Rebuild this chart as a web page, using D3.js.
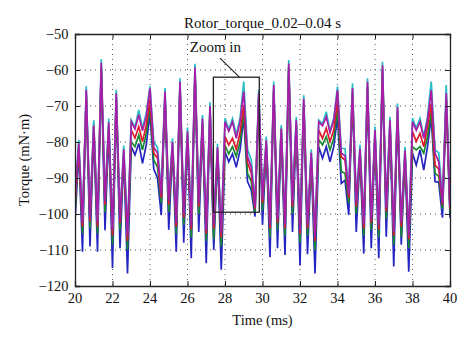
<!DOCTYPE html>
<html>
<head>
<meta charset="utf-8">
<script src="https://cdn.jsdelivr.net/npm/d3@7"></script>
<style>
  html, body { margin: 0; padding: 0; background: #fff; }
  svg { display: block; }
  text { font-family: "Liberation Serif", "DejaVu Serif", serif; fill: #111; }
</style>
</head>
<body>
<svg id="chart" width="474" height="345"></svg>
<script>
// ---------------- data ----------------
const times = d3.range(101).map(i => +(20 + i * 0.2).toFixed(1)); // 20.0 … 40.0 ms, 0.2 ms sampling

const seriesNames = ["blue", "green", "red", "cyan", "magenta"];
const seriesColors = ["#2424c0", "#158a30", "#dc1a2a", "#28bcc4", "#a81ca8"];

const blueValues = [
  -102.5, -82.4, -110.5, -67.5, -109, -77, -110.5, -60, -104.5, -76.5,
  -115, -68.5, -109.5, -84, -116.5, -81.3, -83.6, -80.4, -85.9, -80.8,
  -72.0, -87.5, -90.0, -100.3, -68, -104.4, -82, -110.5, -65.3, -108,
  -79, -112.3, -61.3, -105, -75.5, -113.7, -72, -110, -83.5, -115.5,
  -82.7, -85.5, -83.3, -87.0, -82.4, -73.0, -91.0, -93.3, -100.7, -68.5,
  -103, -81.5, -112, -66.2, -109.5, -77.8, -111.4, -60.2, -105, -76,
  -114.3, -70, -111.2, -85, -116.5, -81.3, -84.5, -81.3, -85.5, -81.3,
  -73.0, -91.5, -90.6, -100.3, -67, -105, -83.8, -111, -65.3, -109.5,
  -78.7, -112.3, -60.7, -106.3, -76, -114.6, -72.3, -108.5, -84.3, -116,
  -83.1, -86.4, -82.2, -87.8, -81.3, -73.0, -91.0, -91.2, -101, -68.5,
  -101
];
const greenValues = [
  -99.5, -81.9, -105.5, -67, -104, -76.5, -105.5, -59.5, -99.5, -76,
  -108.5, -68, -104.5, -83.5, -110, -79.9, -81.3, -78.1, -82.2, -77.6,
  -70.2, -85.0, -87.0, -97, -67.5, -99.4, -81.5, -105.5, -64.8, -103,
  -78.5, -106.5, -60.8, -100, -75, -107.5, -71.5, -107, -83, -109,
  -81.0, -83.3, -81.3, -84.0, -80.0, -71.5, -88.7, -91.0, -99.5, -68,
  -99, -81, -106.5, -65.7, -104.5, -77.3, -106, -59.7, -100, -75.5,
  -108, -69.5, -106, -84.5, -110, -79.4, -80.8, -78.5, -82.2, -79.0,
  -70.6, -88.2, -88.7, -97, -66.5, -100, -83.3, -106, -64.8, -104.5,
  -78.2, -106.5, -60.2, -101.3, -75.5, -108.5, -71.8, -106.3, -83.8, -109.5,
  -81.3, -82.2, -81.3, -83.1, -78.5, -71.6, -88.7, -89.5, -98.5, -68,
  -99.5
];
const redValues = [
  -97.5, -81.4, -103.5, -66.5, -102, -74.8, -103.5, -59, -97.5, -75.5,
  -106, -67.5, -102.5, -83, -107.5, -76.7, -78.9, -75.7, -79.9, -75.3,
  -68.3, -83.0, -84.5, -95.5, -67, -97.4, -81, -103.5, -64.3, -101,
  -78, -104.3, -60.3, -98, -74.5, -105.5, -71, -104, -82.5, -106.5,
  -78.5, -80.8, -79.0, -82.0, -77.5, -69.7, -85.6, -88.7, -98.5, -67.5,
  -97, -80.5, -104, -65.2, -102.5, -76, -104, -59.2, -98, -75,
  -105.5, -69, -104, -84, -107.5, -76.7, -79.0, -76.2, -79.9, -76.7,
  -68.3, -84.1, -85.0, -95.5, -66, -98, -82.8, -104, -64.3, -102.5,
  -77.7, -104.3, -59.7, -99.3, -75, -106, -71.3, -103.5, -83.3, -107,
  -77.1, -79.9, -77.6, -81.3, -75.7, -69.3, -86.4, -87.5, -97.5, -67.5,
  -98.5
];
const cyanValues = [
  -95, -79.4, -101.5, -64.5, -100, -74, -101.5, -57, -95.5, -73.5,
  -103.5, -65.5, -100.5, -81, -105, -73.9, -75.8, -71.1, -76.2, -72.0,
  -64.5, -80.0, -81.5, -93.5, -65, -95.4, -79, -101.5, -62.3, -99,
  -76, -102.3, -58.3, -96, -72.5, -103.5, -69, -102, -80.5, -104.5,
  -73.4, -76.5, -73.5, -78.0, -73.5, -63.2, -82.0, -85.0, -97, -65.5,
  -95, -78.5, -102, -63.2, -100.5, -75.3, -102, -57.2, -96, -73,
  -103.5, -67, -102, -82, -105.5, -73.9, -75.0, -71.6, -77.0, -73.4,
  -64.6, -81.8, -81.8, -93.5, -63.7, -96, -80.8, -102, -62.3, -100.5,
  -75.7, -102.3, -57.7, -97.3, -73, -104, -69.3, -101.5, -81.3, -105,
  -73.4, -76.2, -73.4, -78.5, -73.0, -63.2, -82.2, -83.0, -96, -64.2,
  -97
];
const magentaValues = [
  -96, -80.4, -102.5, -65.5, -101, -75.5, -102.5, -58, -96.5, -74.5,
  -104.5, -66.5, -101.5, -82, -106, -74.4, -76.4, -72.5, -76.9, -72.9,
  -65.1, -81.5, -83.0, -94.5, -66, -96.4, -80, -102.5, -63.3, -100,
  -77, -103.3, -59.3, -97, -73.5, -104.5, -70, -103, -81.5, -105.5,
  -74.4, -77.0, -74.4, -79.0, -74.5, -66.0, -84.0, -87.0, -98, -66.5,
  -96, -79.5, -103, -64.2, -101.5, -76.3, -103, -58.2, -97, -74,
  -104.5, -68, -103, -83, -106.5, -74.4, -75.5, -73.0, -77.4, -73.9,
  -65.6, -83.1, -83.8, -94.5, -65, -97, -81.8, -103, -63.3, -101.5,
  -76.7, -103.3, -58.7, -98.3, -74, -105, -70.3, -102.5, -82.3, -106,
  -74.4, -76.7, -74.4, -79.0, -73.9, -65.6, -83.1, -85.5, -97, -66.5,
  -98
];
const seriesValues = [blueValues, greenValues, redValues, cyanValues, magentaValues];

const xTicks = [20, 22, 24, 26, 28, 30, 32, 34, 36, 38, 40];
const xTickLabels = ["20", "22", "24", "26", "28", "30", "32", "34", "36", "38", "40"];
const yTicks = [-50, -60, -70, -80, -90, -100, -110, -120];
const yTickLabels = ["\u221250", "\u221260", "\u221270", "\u221280", "\u221290", "\u2212100", "\u2212110", "\u2212120"];

const titleText = "Rotor_torque_0.02\u20130.04 s";
const xLabelText = "Time (ms)";
const yLabelText = "Torque (mN\u00B7m)";
const zoomLabel = "Zoom in";
const zoomBoxX = [27.38, 29.83];
const zoomBoxY = [-99.5, -62];
const zoomLabelPos = [27.38, -55];
const zoomLeader = [[27.73, -56.7], [28.77, -62]];

// ---------------- layout ----------------
const plotLeft = 75, plotRight = 450, plotTop = 34, plotBottom = 286;

const svg = d3.select("#chart");
const x = d3.scaleLinear().domain([20, 40]).range([plotLeft, plotRight]);
const y = d3.scaleLinear().domain([-120, -50]).range([plotBottom, plotTop]);

// grid (dotted)
const grid = svg.append("g").attr("class", "grid");
grid.selectAll("line.gx").data(xTicks.slice(1, -1)).enter().append("line")
  .attr("x1", d => x(d)).attr("x2", d => x(d))
  .attr("y1", plotTop).attr("y2", plotBottom)
  .attr("stroke", "#555").attr("stroke-width", 1)
  .attr("stroke-dasharray", "1,4");
grid.selectAll("line.gy").data(yTicks.slice(1, -1)).enter().append("line")
  .attr("y1", d => y(d)).attr("y2", d => y(d))
  .attr("x1", plotLeft).attr("x2", plotRight)
  .attr("stroke", "#555").attr("stroke-width", 1)
  .attr("stroke-dasharray", "1,4");

// series
svg.append("clipPath").attr("id", "plotclip").append("rect")
  .attr("x", plotLeft).attr("y", plotTop)
  .attr("width", plotRight - plotLeft).attr("height", plotBottom - plotTop);

const line = d3.line().x((d, i) => x(times[i])).y(d => y(d));
const plotG = svg.append("g").attr("clip-path", "url(#plotclip)");
seriesValues.forEach((vals, k) => {
  plotG.append("path")
    .datum(vals)
    .attr("fill", "none")
    .attr("stroke", seriesColors[k])
    .attr("stroke-width", 1.7)
    .attr("stroke-linejoin", "miter")
    .attr("stroke-miterlimit", 4)
    .attr("d", line);
});

// axes (inner ticks, box)
const tickLen = 5;
const axG = [
  svg.append("g").attr("transform", `translate(0,${plotBottom})`)
    .call(d3.axisBottom(x).tickValues(xTicks).tickSize(-tickLen).tickFormat("")),
  svg.append("g").attr("transform", `translate(0,${plotTop})`)
    .call(d3.axisTop(x).tickValues(xTicks).tickSize(-tickLen).tickFormat("")),
  svg.append("g").attr("transform", `translate(${plotLeft},0)`)
    .call(d3.axisLeft(y).tickValues(yTicks).tickSize(-tickLen).tickFormat("")),
  svg.append("g").attr("transform", `translate(${plotRight},0)`)
    .call(d3.axisRight(y).tickValues(yTicks).tickSize(-tickLen).tickFormat(""))
];
axG.forEach(g => {
  g.select(".domain").attr("stroke", "#222").attr("stroke-width", 1.3);
  g.selectAll(".tick line").attr("stroke", "#222").attr("stroke-width", 1);
});

// tick labels
svg.append("g").selectAll("text").data(xTicks).enter().append("text")
  .attr("x", d => x(d)).attr("y", 302.5)
  .attr("text-anchor", "middle")
  .attr("font-size", 14.5)
  .text((d, i) => xTickLabels[i]);
svg.append("g").selectAll("text").data(yTicks).enter().append("text")
  .attr("x", 68.5).attr("y", d => y(d))
  .attr("dy", "0.34em")
  .attr("text-anchor", "end")
  .attr("font-size", 14.5)
  .text((d, i) => yTickLabels[i]);

// title and axis labels
svg.append("text").attr("x", (plotLeft + plotRight) / 2).attr("y", 28.3)
  .attr("text-anchor", "middle").attr("font-size", 15).text(titleText);
svg.append("text").attr("x", (plotLeft + plotRight) / 2).attr("y", 325)
  .attr("text-anchor", "middle").attr("font-size", 14.5).text(xLabelText);
svg.append("text")
  .attr("transform", `translate(28.5,${(plotTop + plotBottom) / 2}) rotate(-90)`)
  .attr("text-anchor", "middle").attr("font-size", 14.5).text(yLabelText);

// zoom-in annotation
svg.append("rect")
  .attr("x", x(zoomBoxX[0])).attr("y", y(zoomBoxY[1]))
  .attr("width", x(zoomBoxX[1]) - x(zoomBoxX[0]))
  .attr("height", y(zoomBoxY[0]) - y(zoomBoxY[1]))
  .attr("fill", "none").attr("stroke", "#222").attr("stroke-width", 1.3);
svg.append("line")
  .attr("x1", x(zoomLeader[0][0])).attr("y1", y(zoomLeader[0][1]))
  .attr("x2", x(zoomLeader[1][0])).attr("y2", y(zoomLeader[1][1]))
  .attr("stroke", "#222").attr("stroke-width", 1.1);
svg.append("text")
  .attr("x", x(zoomLabelPos[0]) + 2).attr("y", y(zoomLabelPos[1]) - 0.5)
  .attr("text-anchor", "middle").attr("font-size", 15).text(zoomLabel);
</script>
</body>
</html>
